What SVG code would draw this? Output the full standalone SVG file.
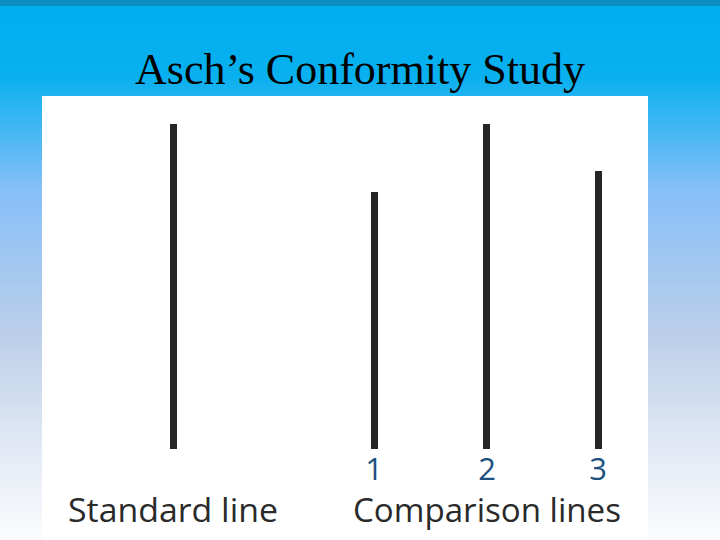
<svg xmlns="http://www.w3.org/2000/svg" width="720" height="540" viewBox="0 0 720 540">
<defs>
<linearGradient id="bg" x1="0" y1="0" x2="0" y2="1">
<stop offset="0" stop-color="#00aeef"/>
<stop offset="0.14" stop-color="#08b0ef"/>
<stop offset="0.35" stop-color="#86bff8"/>
<stop offset="0.62" stop-color="#bccfe9"/>
<stop offset="0.85" stop-color="#e6ecf6"/>
<stop offset="1" stop-color="#fafbfd"/>
</linearGradient>
<style>
.ln{fill:#262626}
.lbl{font-family:"Open Sans","Noto Sans","Liberation Sans",sans-serif;font-size:33px;fill:#2a2a2a}
.num{font-family:"Open Sans","Noto Sans","Liberation Sans",sans-serif;font-size:31px;fill:#1d5080;text-anchor:middle}
</style>
</defs>
<rect width="720" height="540" fill="url(#bg)"/>
<rect width="720" height="6" fill="#0a8fc0"/>
<text x="360" y="84" text-anchor="middle" font-family="'Liberation Serif',serif" font-size="44" fill="#000">Asch’s Conformity Study</text>
<rect x="42" y="96" width="606" height="444" fill="#ffffff"/>
<g id="standard">
<rect class="ln" x="170" y="124" width="7" height="325"/>
<text class="lbl" x="68" y="522" textLength="210" lengthAdjust="spacingAndGlyphs">Standard line</text>
</g>
<g id="line1">
<rect class="ln" x="371" y="192" width="7" height="257"/>
<text class="num" x="374" y="480">1</text>
</g>
<g id="line2">
<rect class="ln" x="483" y="124" width="7" height="325"/>
<text class="num" x="487" y="480">2</text>
</g>
<g id="line3">
<rect class="ln" x="595" y="171" width="7" height="278"/>
<text class="num" x="598" y="480">3</text>
</g>
<g id="comparison">
<text class="lbl" x="353" y="522" textLength="268" lengthAdjust="spacingAndGlyphs">Comparison lines</text>
</g>
<g id="connectors"/>
</svg>
